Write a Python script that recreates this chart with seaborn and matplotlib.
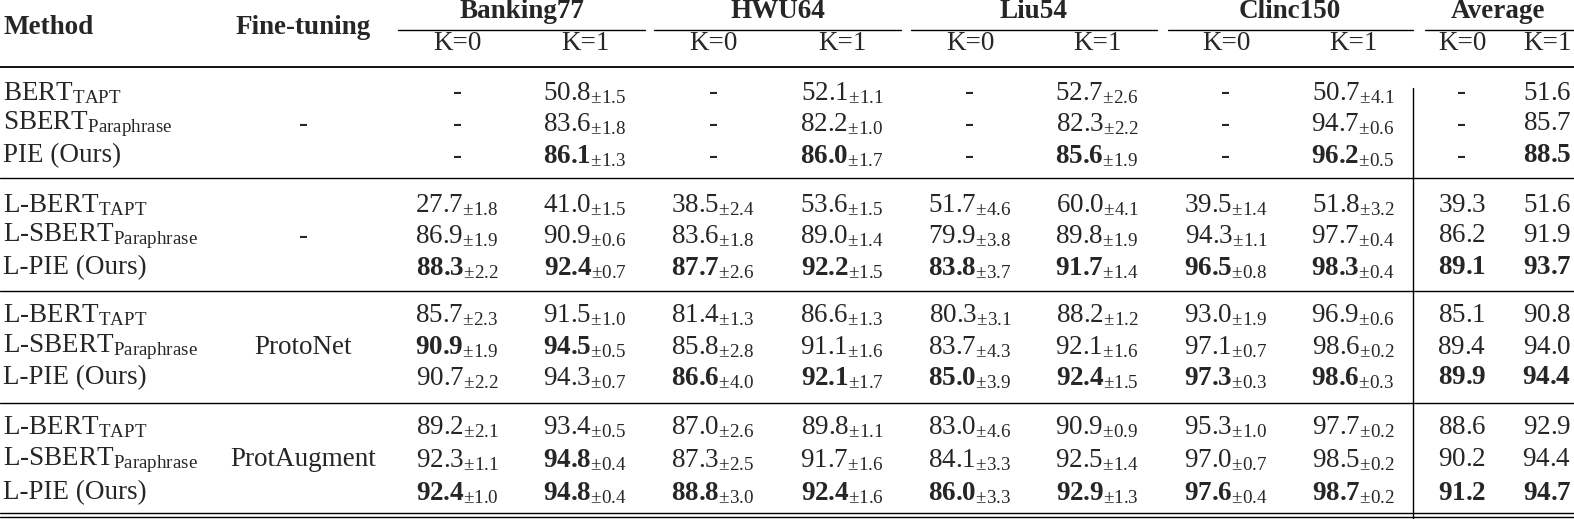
import numpy as np
import matplotlib
matplotlib.use("Agg")
import matplotlib.pyplot as plt
import seaborn as sns

# ---- table data ----
methods = [r"BERT$_{\mathrm{TAPT}}$", r"SBERT$_{\mathrm{Paraphrase}}$", "PIE (Ours)",
           r"L-BERT$_{\mathrm{TAPT}}$", r"L-SBERT$_{\mathrm{Paraphrase}}$", "L-PIE (Ours)",
           r"L-BERT$_{\mathrm{TAPT}}$", r"L-SBERT$_{\mathrm{Paraphrase}}$", "L-PIE (Ours)",
           r"L-BERT$_{\mathrm{TAPT}}$", r"L-SBERT$_{\mathrm{Paraphrase}}$", "L-PIE (Ours)"]
finetuning = ["-", "-", "ProtoNet", "ProtAugment"]
datasets = ["Banking77", "HWU64", "Liu54", "Clinc150", "Average"]
k_labels = ["K=0", "K=1"]
N = None

banking_k0 = [N, N, N, 27.7, 86.9, 88.3, 85.7, 90.9, 90.7, 89.2, 92.3, 92.4]
banking_k0_std = [N, N, N, 1.8, 1.9, 2.2, 2.3, 1.9, 2.2, 2.1, 1.1, 1.0]
banking_k1 = [50.8, 83.6, 86.1, 41.0, 90.9, 92.4, 91.5, 94.5, 94.3, 93.4, 94.8, 94.8]
banking_k1_std = [1.5, 1.8, 1.3, 1.5, 0.6, 0.7, 1.0, 0.5, 0.7, 0.5, 0.4, 0.4]
hwu_k0 = [N, N, N, 38.5, 83.6, 87.7, 81.4, 85.8, 86.6, 87.0, 87.3, 88.8]
hwu_k0_std = [N, N, N, 2.4, 1.8, 2.6, 1.3, 2.8, 4.0, 2.6, 2.5, 3.0]
hwu_k1 = [52.1, 82.2, 86.0, 53.6, 89.0, 92.2, 86.6, 91.1, 92.1, 89.8, 91.7, 92.4]
hwu_k1_std = [1.1, 1.0, 1.7, 1.5, 1.4, 1.5, 1.3, 1.6, 1.7, 1.1, 1.6, 1.6]
liu_k0 = [N, N, N, 51.7, 79.9, 83.8, 80.3, 83.7, 85.0, 83.0, 84.1, 86.0]
liu_k0_std = [N, N, N, 4.6, 3.8, 3.7, 3.1, 4.3, 3.9, 4.6, 3.3, 3.3]
liu_k1 = [52.7, 82.3, 85.6, 60.0, 89.8, 91.7, 88.2, 92.1, 92.4, 90.9, 92.5, 92.9]
liu_k1_std = [2.6, 2.2, 1.9, 4.1, 1.9, 1.4, 1.2, 1.6, 1.5, 0.9, 1.4, 1.3]
clinc_k0 = [N, N, N, 39.5, 94.3, 96.5, 93.0, 97.1, 97.3, 95.3, 97.0, 97.6]
clinc_k0_std = [N, N, N, 1.4, 1.1, 0.8, 1.9, 0.7, 0.3, 1.0, 0.7, 0.4]
clinc_k1 = [50.7, 94.7, 96.2, 51.8, 97.7, 98.3, 96.9, 98.6, 98.6, 97.7, 98.5, 98.7]
clinc_k1_std = [4.1, 0.6, 0.5, 3.2, 0.4, 0.4, 0.6, 0.2, 0.3, 0.2, 0.2, 0.2]
avg_k0 = [N, N, N, 39.3, 86.2, 89.1, 85.1, 89.4, 89.9, 88.6, 90.2, 91.2]
avg_k1 = [51.6, 85.7, 88.5, 51.6, 91.9, 93.7, 90.8, 94.0, 94.4, 92.9, 94.4, 94.7]
no_std = [N] * 12

# rows shown in bold, per column
best_rows = [[5, 7, 11], [2, 5, 7, 10, 11],
             [5, 8, 11], [2, 5, 8, 11],
             [5, 8, 11], [2, 5, 8, 11],
             [5, 8, 11], [2, 5, 8, 11],
             [5, 8, 11], [2, 5, 8, 11]]

columns = [(banking_k0, banking_k0_std), (banking_k1, banking_k1_std),
           (hwu_k0, hwu_k0_std), (hwu_k1, hwu_k1_std),
           (liu_k0, liu_k0_std), (liu_k1, liu_k1_std),
           (clinc_k0, clinc_k0_std), (clinc_k1, clinc_k1_std),
           (avg_k0, no_std), (avg_k1, no_std)]

# ---- layout (pixel coordinates) ----
col_x = [457, 585, 713, 842, 970, 1097, 1226, 1353, 1462, 1547]
group_x = [522, 778, 1033, 1290, 1498]
group_span = [(398, 645), (654, 901), (911, 1157), (1168, 1413), (1425, 1574)]
row_y = [93, 124, 156, 205, 236, 268, 315, 347, 378, 427, 460, 493]
group_lines = [178, 291, 403]

sns.set_theme(style="white")
plt.rcParams['font.family'] = ['Liberation Serif', 'DejaVu Serif']
plt.rcParams['mathtext.fontset'] = 'custom'
plt.rcParams['mathtext.rm'] = 'Liberation Serif'
plt.rcParams['mathtext.it'] = 'Liberation Serif:italic'
plt.rcParams['mathtext.bf'] = 'Liberation Serif:bold'

fig = plt.figure(figsize=(15.74, 5.19), dpi=100)
ax = fig.add_axes([0, 0, 1, 1])
ax.set_xlim(0, 1574)
ax.set_ylim(519, 0)
ax.axis('off')

fs = 19.5
ax.text(3, 27, "Method", fontsize=fs, fontweight='bold', va='center', ha='left')
ax.text(303, 27, "Fine-tuning", fontsize=fs, fontweight='bold', va='center', ha='center')
for name, gx, (x0, x1) in zip(datasets, group_x, group_span):
    ax.text(gx, 12, name, fontsize=fs, fontweight='bold', va='center', ha='center')
    ax.plot([x0, x1], [30, 30], color='black', lw=1.0)
for i, cx in enumerate(col_x):
    ax.text(cx, 44, k_labels[i % 2], fontsize=fs, va='center', ha='center')

ax.plot([0, 1574], [67, 67], color='black', lw=1.3)
for y in group_lines:
    ax.plot([0, 1574], [y, y], color='black', lw=1.0)
ax.plot([0, 1574], [513, 513], color='black', lw=1.0)
ax.plot([0, 1574], [517, 517], color='black', lw=1.0)
ax.plot([1413, 1413], [88, 519], color='black', lw=1.0)

for r, (m, y) in enumerate(zip(methods, row_y)):
    ax.text(3, y, m, fontsize=fs, va='center', ha='left')
for g, ft in enumerate(finetuning):
    ax.text(303, row_y[g * 3 + 1], ft, fontsize=fs, va='center', ha='center')

for c, ((vals, stds), cx) in enumerate(zip(columns, col_x)):
    for r, (v, s) in enumerate(zip(vals, stds)):
        y = row_y[r]
        if v is None:
            ax.text(cx, y, "-", fontsize=fs, va='center', ha='center')
            continue
        main = r"\mathbf{%.1f}" % v if r in best_rows[c] else r"\mathrm{%.1f}" % v
        if s is not None:
            label = r"$%s_{\pm\mathrm{%.1f}}$" % (main, s)
        else:
            label = r"$%s$" % main
        ax.text(cx, y, label, fontsize=fs, va='center', ha='center')

fig.savefig("out.png", dpi=100, facecolor='white')
